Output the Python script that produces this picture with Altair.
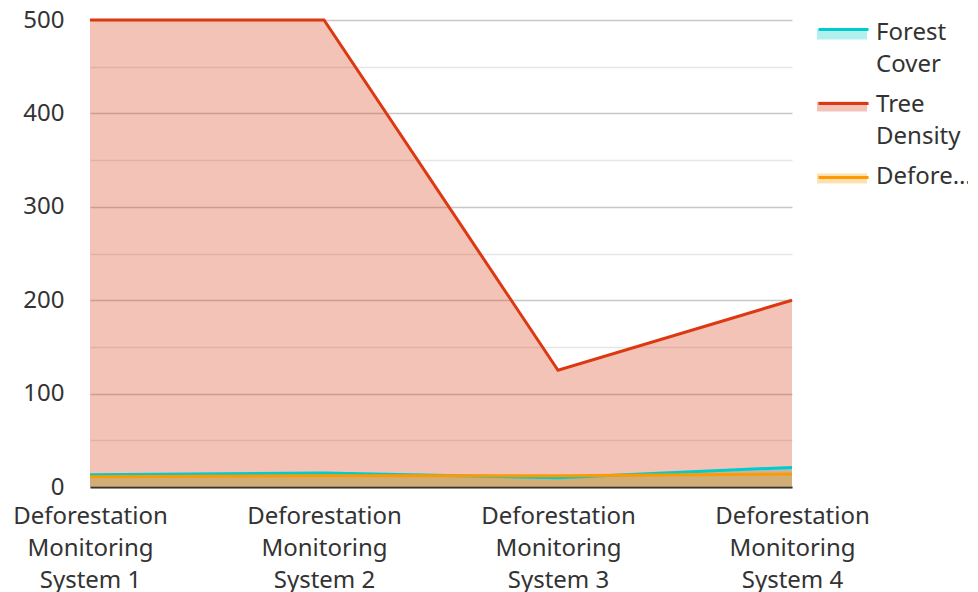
import altair as alt
import pandas as pd

systems = [
    "Deforestation Monitoring System 1",
    "Deforestation Monitoring System 2",
    "Deforestation Monitoring System 3",
    "Deforestation Monitoring System 4",
]
series = ["Forest Cover", "Tree Density", "Deforestation"]
forest_cover = [13, 15, 10, 21]
tree_density = [500, 500, 125, 200]
deforestation = [11, 12, 12, 14]
colors = ["#00cccc", "#dc3912", "#ff9900"]
y_ticks = [0, 50, 100, 150, 200, 250, 300, 350, 400, 450, 500]

rows = []
for name, vals in zip(series, [forest_cover, tree_density, deforestation]):
    for s, v in zip(systems, vals):
        rows.append({"system": s, "series": name, "value": v})
df = pd.DataFrame(rows)

FONT = "Noto Sans"
TXT = "#333333"

x = alt.X(
    "system:N",
    sort=systems,
    scale=alt.Scale(type="point", padding=0),
    axis=alt.Axis(
        title=None,
        labelAngle=0,
        labelExpr="[split(datum.label,' ')[0], split(datum.label,' ')[1], split(datum.label,' ')[2] + ' ' + split(datum.label,' ')[3]]",
        labelFont=FONT,
        labelFontSize=24,
        labelColor=TXT,
        labelLineHeight=32,
        labelPadding=17,
        labelBaseline="top",
        ticks=False,
        grid=False,
        domainColor="#333333",
        domainWidth=2,
    ),
)
y = alt.Y(
    "value:Q",
    stack=None,
    scale=alt.Scale(domain=[0, 500], nice=False),
    axis=alt.Axis(
        title=None,
        values=y_ticks,
        labelExpr="datum.value % 100 == 0 ? datum.label : ''",
        gridColor=alt.condition("datum.value % 100 == 0", alt.value("#c8c8c8"), alt.value("#e6e6e6")),
        gridWidth=1.5,
        domain=False,
        ticks=False,
        labelPadding=26,
        labelFont=FONT,
        labelFontSize=24,
        labelColor=TXT,
    ),
)

legend_common = dict(
    orient="none",
    legendX=727,
    legendY=-12,
    title=None,
    padding=0,
    symbolSize=2500,
    labelExpr="split(datum.label, ' ')",
    labelFont=FONT,
    labelFontSize=24,
    labelColor=TXT,
    labelLimit=98,
    labelOffset=9,
    rowPadding=3,
)

area = alt.Chart(df).mark_area(opacity=0.3).encode(
    x=x,
    y=y,
    fill=alt.Fill(
        "series:N",
        scale=alt.Scale(domain=series, range=colors),
        legend=alt.Legend(
            symbolType="M-1,-0.136H1V0.264H-1Z",
            symbolStrokeWidth=0,
            **legend_common,
        ),
    ),
)
line = alt.Chart(df).mark_line(strokeWidth=3).encode(
    x=x,
    y=y,
    stroke=alt.Stroke(
        "series:N",
        sort=series,
        scale=alt.Scale(range=colors),
        legend=alt.Legend(
            symbolType="M-1,-0.196H1",
            symbolStrokeWidth=3,
            labelOpacity=0,
            **legend_common,
        ),
    ),
)

chart = (
    alt.layer(area, line)
    .properties(
        width=702,
        height=467,
        autosize=alt.AutoSizeParams(type="none"),
        padding={"left": 82, "top": 12, "right": 176, "bottom": 105},
    )
    .configure(
        view={"stroke": "transparent"},
        style={"guide-label": {"lineHeight": 32}},
    )
)

chart.save("out.html", embed_options={"renderer": "svg", "actions": False})
